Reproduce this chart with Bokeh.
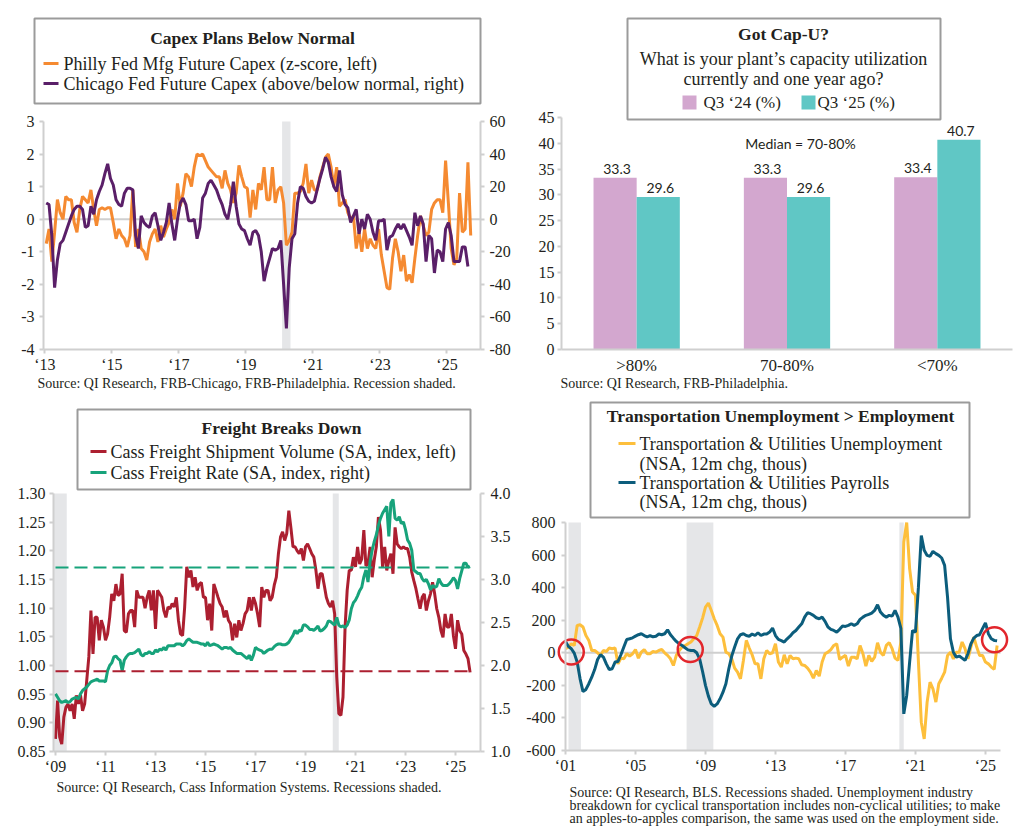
import numpy as np
from bokeh.plotting import figure
from bokeh.models import (Range1d, LinearAxis, FixedTicker, BoxAnnotation, Label,
                          ColumnDataSource, LabelSet, NumeralTickFormatter)
from bokeh.layouts import column, row
from bokeh.embed import file_html
from bokeh.resources import INLINE
from bokeh.core.properties import value

# ---------------- DATA ----------------
# Panel 1: monthly from Jan 2013
philly_capex = [
    -0.75, -0.3, -1.3, -0.4, 0.6, 0.2, 0.0, 0.7, 0.6, 0.6,
    -0.1, -0.4, 0.3, 0.7, 0.6, 0.5, 0.9, 0.3, -0.2, 0.3,
    0.35, 0.3, 0.35, 0.35, -0.1, -0.6, -0.3, -0.5, -0.6, -0.85,
    -0.5, 0.9, -0.85, -0.3, -0.9, -1.0, -1.25, -0.7, -0.45, -0.3,
    -0.7, -0.2, -0.55, -0.3, -0.1, 0.3, 0.0, 1.1, 0.4, 0.8,
    1.4, 1.3, 1.0, 1.6, 2.0, 1.95, 2.0, 1.8, 1.6, 1.5,
    1.4, 1.3, 1.3, 0.95, 1.5, 1.1, 0.9, 0.5, 0.8, 1.65,
    1.3, 1.0, 0.95, 0.05, 0.9, 0.3, 1.1, 0.9, 1.6, 0.6,
    0.6, 1.6, 0.5, 0.9, 1.0, 0.5, -0.8, -0.65, -0.4, 0.8,
    0.8, 0.85, 1.1, 1.7, 0.8, 1.2, 0.9, 0.9, 1.3, 1.6,
    1.9, 2.0, 1.6, 1.0, 1.6, 0.4, 0.5, 0.6, 0.2, 0.0,
    0.1, -0.9, -0.4, -1.0, -0.3, -0.9, -0.6, -0.8, -0.9, -0.3,
    -1.1, -1.6, -2.1, -2.15, -1.2, -0.6, -1.0, -1.6, -1.1, -1.9,
    -1.7, -1.95, -1.2, -0.5, 0.1, -0.2, -0.5, -0.4, 0.3, 0.5,
    0.6, 0.6, 0.2, 1.8, 0.5, -0.9, -1.4, -1.2, 0.8, -0.4,
    -0.3, 1.75, -0.5]
chicago_capex = [
    10, 9, -10, -42, -25, -15, -13, -8, -3, 2,
    6, 8, 8, 6, -5, -4, 8, 3, 12, 17,
    21, 28, 34, 25, 21, 12, 9, 8, 16, 19,
    19, 18, -10, -18, 2, -2, -4, -5, 2, 4,
    -4, -13, -8, -2, 10, -3, -13, 0, 10, 13,
    9, -1, -1, 0, -12, -5, 13, 16, 22, 24,
    21, 18, 13, 9, 3, 0, 9, 23, 8, -3,
    -6, -7, -12, -16, -8, -7, -10, -20, -38, -30,
    -24, -18, -19, -18, -13, -40, -67, -30, -12, -9,
    10, 20, 19, 14, 11, 10, 11, 18, 25, 31,
    38, 35, 26, 20, 17, 30, 15, 9, 7, -2,
    2, 6, -9, 0, -6, 3, 0, -8, -13, -1,
    -1, 0, -19, -11, -10, -6, -3, -6, -3, -7,
    -11, -16, 4, -4, 2, -3, -26, -10, -12, -33,
    -19, -20, -26, -6, -2, -10, -26, -26, -26, -17,
    -17, -29]
p1_years = [2013, 2015, 2017, 2019, 2021, 2023, 2025]
p1_left_ticks = [-4, -3, -2, -1, 0, 1, 2, 3]
p1_right_ticks = [-80, -60, -40, -20, 0, 20, 40, 60]
p1_recessions = [(2020.08, 2020.33)]

# Panel 2
capu_categories = [">80%", "70-80%", "<70%"]
capu_q3_24 = [33.3, 33.3, 33.4]
capu_q3_25 = [29.6, 29.6, 40.7]
p2_ticks = [0, 5, 10, 15, 20, 25, 30, 35, 40, 45]

# Panel 3: monthly from Jan 2009
cass_volume = [
    0.872, 0.939, 0.875, 0.863, 0.910, 0.927, 0.933, 0.921, 0.933, 0.907,
    0.948, 0.933, 0.948, 0.921, 0.933, 0.974, 1.015, 1.096, 1.020, 1.084,
    1.084, 1.044, 1.079, 1.067, 1.044, 1.055, 1.084, 1.125, 1.113, 1.142,
    1.122, 1.125, 1.160, 1.061, 1.058, 1.090, 1.096, 1.096, 1.067, 1.131,
    1.119, 1.119, 1.119, 1.100, 1.119, 1.131, 1.096, 1.131, 1.064, 1.131,
    1.125, 1.119, 1.096, 1.084, 1.102, 1.099, 1.108, 1.102, 1.119, 1.079,
    1.055, 1.052, 1.102, 1.172, 1.154, 1.166, 1.137, 1.154, 1.131, 1.142,
    1.145, 1.119, 1.119, 1.079, 1.108, 1.061, 1.142, 1.131, 1.119, 1.108,
    1.102, 1.084, 1.096, 1.079, 1.073, 1.044, 1.073, 1.049, 1.079, 1.061,
    1.073, 1.090, 1.096, 1.119, 1.096, 1.119, 1.108, 1.090, 1.067, 1.137,
    1.119, 1.131, 1.131, 1.113, 1.119, 1.140, 1.154, 1.195, 1.224, 1.233,
    1.218, 1.230, 1.270, 1.240, 1.207, 1.207, 1.200, 1.195, 1.204, 1.183,
    1.207, 1.212, 1.204, 1.195, 1.189, 1.166, 1.134, 1.160, 1.160, 1.140,
    1.119, 1.108, 1.102, 1.113, 1.090, 0.980, 0.916, 0.913, 0.945, 1.067,
    1.131, 1.166, 1.166, 1.189, 1.172, 1.207, 1.177, 1.186, 1.236, 1.174,
    1.177, 1.207, 1.154, 1.184, 1.207, 1.259, 1.236, 1.172, 1.207, 1.166,
    1.183, 1.195, 1.160, 1.241, 1.212, 1.207, 1.204, 1.207, 1.204, 1.204,
    1.189, 1.163, 1.148, 1.134, 1.116, 1.099, 1.119, 1.125, 1.096, 1.113,
    1.125, 1.145, 1.125, 1.099, 1.084, 1.061, 1.049, 1.090, 1.067, 1.067,
    1.090, 1.052, 1.029, 1.079, 1.061, 1.055, 1.026, 1.020, 1.012, 0.988]
cass_rate = [
    1.67, 1.63, 1.59, 1.57, 1.58, 1.59, 1.57, 1.58, 1.61, 1.62,
    1.63, 1.61, 1.67, 1.71, 1.73, 1.75, 1.78, 1.81, 1.82, 1.83,
    1.84, 1.82, 1.82, 1.82, 1.81, 1.94, 2.00, 2.03, 2.10, 2.11,
    2.08, 2.06, 1.94, 2.06, 2.10, 2.13, 2.14, 2.14, 2.15, 2.17,
    2.19, 2.13, 2.11, 2.14, 2.14, 2.16, 2.14, 2.14, 2.18, 2.16,
    2.19, 2.18, 2.21, 2.18, 2.23, 2.23, 2.23, 2.23, 2.25, 2.25,
    2.25, 2.23, 2.25, 2.29, 2.31, 2.29, 2.27, 2.27, 2.27, 2.26,
    2.25, 2.25, 2.23, 2.27, 2.23, 2.24, 2.25, 2.24, 2.23, 2.21,
    2.19, 2.21, 2.21, 2.20, 2.21, 2.18, 2.16, 2.14, 2.14, 2.14,
    2.12, 2.10, 2.08, 2.12, 2.06, 2.12, 2.21, 2.19, 2.18, 2.17,
    2.14, 2.16, 2.18, 2.19, 2.19, 2.22, 2.24, 2.25, 2.25, 2.24,
    2.24, 2.25, 2.27, 2.31, 2.35, 2.41, 2.37, 2.41, 2.40, 2.47,
    2.47, 2.45, 2.42, 2.42, 2.41, 2.43, 2.46, 2.40, 2.41, 2.43,
    2.46, 2.52, 2.51, 2.49, 2.47, 2.56, 2.47, 2.45, 2.46, 2.44,
    2.47, 2.53, 2.66, 2.73, 2.76, 2.81, 2.87, 2.91, 3.03, 3.11,
    2.97, 3.21, 3.34, 3.44, 3.52, 3.63, 3.71, 3.77, 3.81, 3.85,
    3.50, 3.89, 3.93, 3.71, 3.69, 3.73, 3.65, 3.67, 3.58, 3.46,
    3.42, 3.34, 3.11, 3.09, 3.07, 3.07, 3.01, 2.98, 3.00, 2.95,
    2.88, 2.93, 2.91, 2.92, 3.01, 2.96, 2.93, 2.93, 2.93, 2.95,
    2.98, 3.02, 2.99, 2.89, 3.01, 3.10, 3.19, 3.19, 3.14, 3.15]
cass_volume_ref = 0.99
cass_rate_ref = 3.14
p3_years = [2009, 2011, 2013, 2015, 2017, 2019, 2021, 2023, 2025]
p3_left_ticks = [0.85, 0.90, 0.95, 1.00, 1.05, 1.10, 1.15, 1.20, 1.25, 1.30]
p3_right_ticks = [1.0, 1.5, 2.0, 2.5, 3.0, 3.5, 4.0]
p3_recessions = [(2007.92, 2009.45), (2020.09, 2020.33)]

# Panel 4: every two months from Jan 2001
tu_unemployment = [
    25, 35, 55, 45, 168, 172, 158, 106, 76, 14,
    14, 0, -16, 14, 8, 29, 25, 29, -68, -33,
    -37, -6, -20, -6, 20, -33, 4, 20, -6, -6,
    8, 4, 14, 20, 0, -16, -37, -78, -16, 14,
    35, 45, 55, 66, 86, 106, 158, 213, 281, 305,
    260, 209, 168, 117, 96, 4, -6, -37, -94, -119,
    -160, -47, 76, 29, -12, -68, -68, -160, -37, 14,
    -6, 0, 55, -57, -88, -12, -68, -16, -37, -33,
    -37, -74, -78, -94, -119, -156, -109, -143, -57, -6,
    4, 20, 45, 55, -41, -27, -16, -82, -27, -27,
    -37, 45, -6, -82, -16, -53, -27, 62, 4, -16,
    45, 62, 25, -33, -47, 66, 680, 800, 517, 373,
    353, -50, -426, -529, -303, -180, -221, -303, -190, -156,
    -119, -16, 4, -37, 4, 4, 66, 25, -37, 35,
    96, 35, -16, -16, -57, -68, -88, -102, 45]
tu_payrolls = [
    70, 39, 25, -2, -57, -160, -238, -225, -190, -150,
    -103, -41, -12, -27, -68, -103, -98, -57, -53, -12,
    35, 82, 86, 92, 102, 111, 117, 106, 98, 106,
    98, 102, 115, 111, 117, 141, 111, 90, 70, 55,
    45, 31, 18, 14, 14, 0, -37, -115, -200, -266,
    -314, -328, -314, -283, -242, -190, -98, -20, 35, 86,
    111, 117, 106, 102, 115, 106, 123, 106, 115, 115,
    127, 152, 106, 82, 75, 66, 86, 102, 123, 137,
    158, 178, 219, 246, 240, 230, 215, 209, 219, 193,
    158, 144, 137, 127, 144, 164, 162, 168, 178, 168,
    178, 205, 219, 230, 236, 244, 260, 295, 250, 230,
    219, 230, 225, 260, 219, 150, -375, -262, -57, 137,
    127, 400, 720, 629, 598, 592, 623, 609, 598, 582,
    537, 342, 86, 4, -27, -20, -33, -47, -6, 55,
    90, 106, 111, 148, 184, 117, 86, 76, 74]
crossover_dates = [2001.33, 2008.13, 2025.52]
crossover_values = [5, 20, 80]
p4_years = [2001, 2005, 2009, 2013, 2017, 2021, 2025]
p4_ticks = [-600, -400, -200, 0, 200, 400, 600, 800]
p4_recessions = [(2001.17, 2001.88), (2007.92, 2009.45), (2020.08, 2020.33)]

# ---------------- STYLE ----------------
SERIF = "Liberation Serif"
SANS = "Lato"
TXT = "#231f20"
AXIS = "#cfcfcf"
SHADE = "#e5e6e8"
BOXLINE = "#9b9b9b"
ORANGE = "#f58a31"
PURPLE = "#5a1f68"
PINK = "#d3a7cf"
TEAL = "#60c7c5"
RED = "#ac1f30"
GREEN = "#17a37b"
YELLOW = "#fdbf3c"
NAVY = "#0c5d7c"
CIRCLE = "#e2262c"
LEG = "18px"
TITLE = "17.5px"


def fit_range(d0, d1, s0, s1, total):
    """Range whose value d0 sits at pixel s0 and d1 at pixel s1 of a frame `total` px long."""
    k = (d1 - d0) / (s1 - s0)
    return Range1d(d0 - s0 * k, d0 + (total - s0) * k)


def make_fig(w, h, xr, yr):
    p = figure(width=w, height=h, x_range=xr, y_range=yr, output_backend="svg",
               toolbar_location=None, title=None, x_axis_location=None, y_axis_location=None,
               min_border=0, min_border_left=0, min_border_right=0,
               min_border_top=0, min_border_bottom=0)
    p.outline_line_color = None
    p.grid.visible = False
    return p


def style_axis(ax, standoff=5, tick=4, size="16px"):
    ax.axis_line_color = AXIS
    ax.axis_line_width = 2
    ax.major_tick_line_color = AXIS if tick else None
    ax.major_tick_line_width = 2
    ax.major_tick_in = 0
    ax.major_tick_out = tick
    ax.minor_tick_line_color = None
    ax.major_label_text_font = SERIF
    ax.major_label_text_font_size = size
    ax.major_label_text_color = TXT
    ax.major_label_standoff = standoff
    return ax


def add_axis(p, side, loc, bounds, ticks, overrides=None, fmt=None, standoff=5, tick=4,
             size="16px", range_name="default"):
    kw = dict(fixed_location=loc, bounds=bounds, ticker=FixedTicker(ticks=ticks))
    if side in ("left", "right"):
        kw["y_range_name"] = range_name
    ax = LinearAxis(**kw)
    style_axis(ax, standoff, tick, size)
    if overrides:
        ax.major_label_overrides = overrides
    if fmt:
        ax.formatter = NumeralTickFormatter(format=fmt)
    p.add_layout(ax, side)
    return ax


class Geo:
    """Places texts and boxes at page pixels inside a panel whose frame is the whole panel."""
    def __init__(self, p, ox, oy, h):
        self.p, self.ox, self.oy, self.h = p, ox, oy, h

    def sx(self, X):
        return X - self.ox

    def sy(self, Y):
        return self.h - (Y - self.oy)

    def text(self, s, X, Y, size=LEG, bold=False, align="left", font=SERIF):
        self.p.add_layout(Label(x=self.sx(X), y=self.sy(Y), x_units="screen", y_units="screen",
                                text=s, text_font=font, text_font_size=size,
                                text_font_style="bold" if bold else "normal",
                                text_align=align, text_baseline="middle", text_color=TXT))

    def box(self, X0, Y0, X1, Y1, fill="white", line=None, lw=0):
        self.p.add_layout(BoxAnnotation(left=self.sx(X0), right=self.sx(X1),
                                        top=self.sy(Y0), bottom=self.sy(Y1),
                                        left_units="screen", right_units="screen",
                                        top_units="screen", bottom_units="screen",
                                        fill_color=fill, fill_alpha=1,
                                        line_color=line, line_alpha=1, line_width=lw))


def year_labels(years):
    return {y: "\u2018" + str(y)[2:] for y in years}


def shade(p, recs, x0, y0, y1):
    for a, b in recs:
        p.add_layout(BoxAnnotation(left=max(a, x0), right=b, bottom=y0, top=y1,
                                   fill_color=SHADE, fill_alpha=1, line_color=None,
                                   level="underlay"))


# ---------------- PANEL 1 ----------------
X0, X1, Y0, Y1 = 2012.96, 2026.0, -4, 3
p1 = make_fig(512, 400, fit_range(X0, X1, 43, 480, 512), fit_range(Y0, Y1, 51, 279, 400))
p1.extra_y_ranges = {"right": fit_range(-80, 60, 51, 279, 400)}
shade(p1, p1_recessions, X0, Y0, Y1)
p1.line([X0, X1], [0, 0], line_color=AXIS, line_width=2)
t1 = 2013 + (np.arange(len(philly_capex)) + 0.5) / 12
t1b = 2013 + (np.arange(len(chicago_capex)) + 0.5) / 12
p1.line(t1, philly_capex, line_color=ORANGE, line_width=3)
p1.line(t1b, chicago_capex, line_color=PURPLE, line_width=3, y_range_name="right")
add_axis(p1, "below", Y0, (X0, X1), p1_years, year_labels(p1_years), standoff=2)
add_axis(p1, "left", X0, (Y0, Y1), p1_left_ticks, {v: str(v) for v in p1_left_ticks}, standoff=5)
add_axis(p1, "right", X1, (-80, 60), p1_right_ticks, {v: str(v) for v in p1_right_ticks},
         standoff=5, range_name="right")

g1 = Geo(p1, 0, 0, 400)
g1.box(34, 18, 480, 103, line=BOXLINE, lw=2)
g1.text("Capex Plans Below Normal", 252, 37, size=TITLE, bold=True, align="center")
g1.box(43, 61.5, 58, 64.5, fill=ORANGE)
g1.text("Philly Fed Mfg Future Capex (z-score, left)", 63, 63)
g1.box(43, 81.5, 58, 84.5, fill=PURPLE)
g1.text("Chicago Fed Future Capex (above/below normal, right)", 63, 83)
g1.text("Source: QI Research, FRB-Chicago, FRB-Philadelphia. Recession shaded.", 37, 383, size="14px")

# ---------------- PANEL 2 ----------------
p2 = make_fig(512, 400, fit_range(0.5, 3.5, 49, 500, 512), fit_range(0, 45, 51, 283, 400))
pos = np.arange(len(capu_categories)) + 1.0
bw = 0.287
src = ColumnDataSource(dict(xa=pos - bw / 2, xb=pos + bw / 2, a=capu_q3_24, b=capu_q3_25,
                            la=[f"{v:.1f}" for v in capu_q3_24],
                            lb=[f"{v:.1f}" for v in capu_q3_25]))
p2.vbar(x="xa", top="a", width=bw, source=src, fill_color=PINK, line_color=None)
p2.vbar(x="xb", top="b", width=bw, source=src, fill_color=TEAL, line_color=None)
for xc, col, lab in (("xa", "a", "la"), ("xb", "b", "lb")):
    p2.add_layout(LabelSet(x=xc, y=col, text=lab, source=src, x_offset=2, y_offset=4,
                           text_align="center", text_baseline="bottom",
                           text_font=value(SANS), text_font_size=value("14px"),
                           text_color=TXT))
add_axis(p2, "below", 0, (0.5, 3.5), list(pos),
         {float(x): c for x, c in zip(pos, capu_categories)}, standoff=6, tick=0, size="17px")
add_axis(p2, "left", 0.5, (0, 45), p2_ticks, standoff=3)

g2 = Geo(p2, 512, 0, 400)
g2.box(627, 18, 940, 119, line=BOXLINE, lw=2)
g2.text("Got Cap-U?", 783, 33, size=TITLE, bold=True, align="center")
g2.text("What is your plant\u2019s capacity utilization", 783, 58, align="center")
g2.text("currently and one year ago?", 783, 78, align="center")
g2.box(682, 95, 696, 109, fill=PINK)
g2.text("Q3 \u201824 (%)", 703, 102, size="17px")
g2.box(801, 95, 815, 109, fill=TEAL)
g2.text("Q3 \u201825 (%)", 817, 102, size="17px")
g2.text("Median = 70-80%", 800, 143, size="14px", align="center", font=SANS)
g2.text("Source: QI Research, FRB-Philadelphia.", 560, 383, size="14px")

# ---------------- PANEL 3 ----------------
X0, X1, Y0, Y1 = 2008.92, 2026.0, 0.85, 1.30
p3 = make_fig(512, 429, fit_range(X0, X1, 53, 480, 512), fit_range(Y0, Y1, 78, 336, 429))
p3.extra_y_ranges = {"right": fit_range(1.0, 4.0, 78, 336, 429)}
shade(p3, p3_recessions, X0, Y0, Y1)
t3 = 2009 + np.arange(len(cass_volume)) / 12
p3.line(t3, cass_volume, line_color=RED, line_width=3)
p3.line(t3, cass_rate, line_color=GREEN, line_width=3, y_range_name="right")
ref_x = [t3[0], t3[-1]]
p3.line(ref_x, [cass_volume_ref] * 2, line_color=RED, line_width=2, line_dash="13 6")
p3.line(ref_x, [cass_rate_ref] * 2, line_color=GREEN, line_width=2, line_dash="13 6",
        y_range_name="right")
add_axis(p3, "below", Y0, (X0, X1), p3_years, year_labels(p3_years), standoff=2)
add_axis(p3, "left", X0, (Y0, Y1), p3_left_ticks, fmt="0.00", standoff=4)
add_axis(p3, "right", X1, (1.0, 4.0), p3_right_ticks, fmt="0.0", standoff=6, range_name="right")

g3 = Geo(p3, 0, 400, 429)
g3.box(77, 409, 470, 489, line=BOXLINE, lw=2)
g3.text("Freight Breaks Down", 281, 427, size=TITLE, bold=True, align="center")
g3.box(90, 449.5, 106, 452.5, fill=RED)
g3.text("Cass Freight Shipment Volume (SA, index, left)", 110, 451)
g3.box(90, 470.5, 106, 473.5, fill=GREEN)
g3.text("Cass Freight Rate (SA, index, right)", 110, 472)
g3.text("Source: QI Research, Cass Information Systems. Recessions shaded.", 56, 787, size="14px")

# ---------------- PANEL 4 ----------------
X0, X1, Y0, Y1 = 2001.0, 2025.86, -600, 800
p4 = make_fig(512, 429, fit_range(X0, X1, 53, 488, 512), fit_range(Y0, Y1, 79, 307, 429))
shade(p4, p4_recessions, X0, Y0, Y1)
p4.line([X0, X1], [0, 0], line_color=AXIS, line_width=2)
t4 = 2001 + np.arange(len(tu_payrolls)) / 6
p4.line(t4, tu_unemployment, line_color=YELLOW, line_width=3)
p4.line(t4, tu_payrolls, line_color=NAVY, line_width=3)
p4.scatter(crossover_dates, crossover_values, marker="circle", size=25, fill_color=None,
           line_color=CIRCLE, line_width=2.5)
add_axis(p4, "below", Y0, (X0, X1), p4_years, year_labels(p4_years), standoff=2)
add_axis(p4, "left", X0, (Y0, Y1), p4_ticks, {v: str(v) for v in p4_ticks}, standoff=6)

g4 = Geo(p4, 512, 400, 429)
g4.box(590, 402, 969, 517, line=BOXLINE, lw=2)
g4.text("Transportation Unemployment > Employment", 780, 415, size=TITLE, bold=True, align="center")
g4.box(618, 441.5, 635, 444.5, fill=YELLOW)
g4.text("Transportation & Utilities Unemployment", 639, 443)
g4.text("(NSA, 12m chg, thous)", 639, 463)
g4.box(618, 480.5, 635, 483.5, fill=NAVY)
g4.text("Transportation & Utilities Payrolls", 639, 482)
g4.text("(NSA, 12m chg, thous)", 639, 501)
g4.text("Source: QI Research, BLS. Recessions shaded. Unemployment industry", 569, 792, size="14px")
g4.text("breakdown for cyclical transportation includes non-cyclical utilities; to make", 569, 805, size="14px")
g4.text("an apples-to-apples comparison, the same was used on the employment side.", 569, 818, size="14px")

layout = column(row(p1, p2), row(p3, p4))
open("out.html", "w").write(file_html(layout, INLINE))
